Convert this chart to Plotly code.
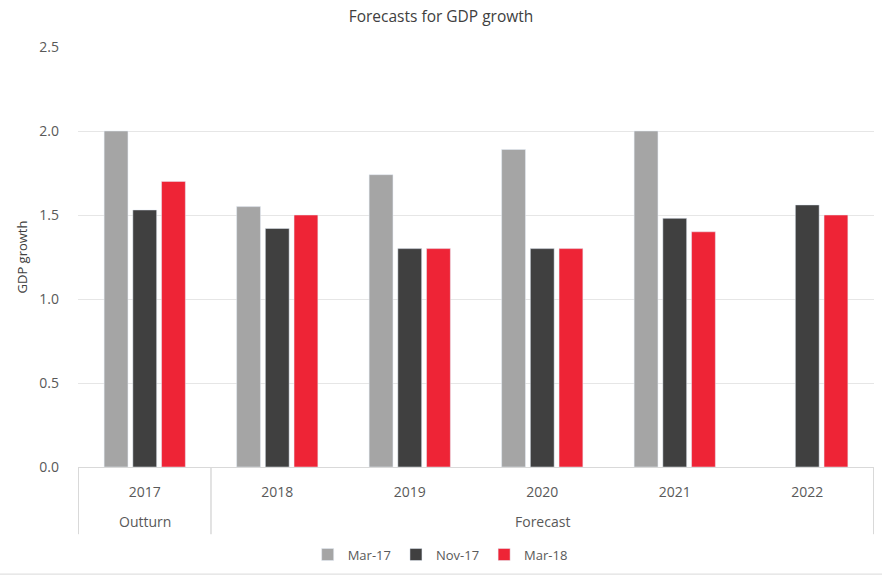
import plotly.graph_objects as go

years = ["2017", "2018", "2019", "2020", "2021", "2022"]
group_labels = ["Outturn", "Forecast"]
group_spans = [(0, 0), (1, 5)]  # index ranges of years in each group
mar17 = [2.00, 1.55, 1.74, 1.89, 2.00, None]
nov17 = [1.53, 1.42, 1.30, 1.30, 1.48, 1.56]
mar18 = [1.70, 1.50, 1.30, 1.30, 1.40, 1.50]
series = [("Mar-17", mar17, "#A5A5A5"), ("Nov-17", nov17, "#404040"), ("Mar-18", mar18, "#EE2436")]

fig = go.Figure()
for name, vals, col in series:
    fig.add_trace(go.Bar(x=years, y=vals, name=name, marker_color=col))

font = "Open Sans, Liberation Sans, sans-serif"
fig.update_layout(
    width=882, height=576,
    margin=dict(l=78, r=8, t=47, b=108),
    paper_bgcolor="white", plot_bgcolor="white",
    barmode="group", bargap=0.35, bargroupgap=0.17,
    font=dict(family=font, size=13, color="#595959"),
    title=dict(text="Forecasts for GDP growth", x=0.5, xanchor="center", y=0.972, yanchor="middle",
               font=dict(size=15.5, color="#404040")),
    legend=dict(orientation="h", x=0.455, xanchor="center", y=-0.17, yanchor="top",
                font=dict(size=13, color="#595959")),
    yaxis=dict(range=[0, 2.5], dtick=0.5, tickformat=".1f", gridcolor="#E6E6E6", gridwidth=1,
               zeroline=False, tickfont=dict(size=14),
               title=dict(text="GDP growth", font=dict(size=13, color="#404040"), standoff=8),
               ticks="", ticklabelstandoff=18),
    xaxis=dict(type="category", showline=True, linecolor="#D9D9D9", linewidth=1, ticks="",
               tickfont=dict(size=14), ticklabelstandoff=12),
)

# group dividers and group labels below the x axis
for lo, hi in group_spans:
    for xv in (lo - 0.5, hi + 0.5):
        fig.add_shape(type="line", xref="x", yref="paper", x0=xv, x1=xv, y0=0, y1=-0.16,
                      line=dict(color="#D9D9D9", width=1))
for lbl, (lo, hi) in zip(group_labels, group_spans):
    fig.add_annotation(x=(lo + hi) / 2, xref="x", y=-0.13, yref="paper", text=lbl, showarrow=False,
                       font=dict(size=14, color="#595959"), yanchor="middle")

fig.add_shape(type="line", xref="paper", yref="paper", x0=-0.1, x1=1.02, y0=-0.255, y1=-0.255,
              line=dict(color="#D9D9D9", width=1))
fig.write_html("out.html")
